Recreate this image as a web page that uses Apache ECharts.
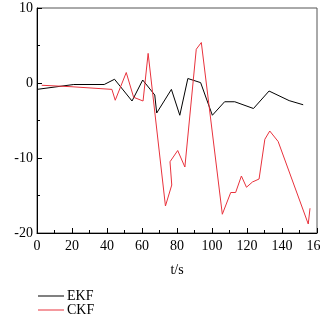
<!DOCTYPE html>
<html>
<head>
<meta charset="utf-8">
<script src="https://cdn.jsdelivr.net/npm/echarts@6/dist/echarts.min.js"></script>
<style>
html,body{margin:0;padding:0;background:#fff;}
#chart{width:320px;height:320px;}
</style>
</head>
<body>
<div id="chart"></div>
<script>
// EKF 曲线 (t, R)
var ekfT = [0, 21, 38.4, 44.3, 54.3, 60.4, 67.3, 68.4, 76.8, 81.6, 86.2, 93.5, 100.2, 107.2, 113, 123.7, 132.6, 144.1, 152.1];
var ekfR = [-0.85, -0.2, -0.2, 0.5, -2.4, 0.4, -1.6, -4.0, -0.85, -4.3, 0.6, 0.05, -4.3, -2.5, -2.5, -3.4, -1.07, -2.35, -2.9];
// CKF 曲线 (t, R)
var ckfT = [2.7, 20, 42.8, 44.7, 51, 55.2, 60.6, 63.5, 73.4, 77, 76, 80.4, 84.5, 91, 93.9, 105.9, 110.7, 113.5, 116.8, 119.7, 123.1, 126.9, 130.2, 133, 137.8, 155, 156];
var ckfR = [-0.3, -0.5, -0.85, -2.3, 1.4, -1.9, -2.4, 3.95, -16.4, -13.6, -10.5, -9.0, -11.2, 4.5, 5.4, -17.5, -14.6, -14.6, -12.4, -13.9, -13.2, -12.8, -7.5, -6.4, -7.8, -18.8, -16.7];
var seriesNames = ['EKF', 'CKF'];

function pairs(t, r) {
  var out = [];
  for (var i = 0; i < t.length; i++) out.push([t[i], r[i]]);
  return out;
}

var chart = echarts.init(document.getElementById('chart'));
var font = 'Liberation Serif';
var option = {
  animation: false,
  grid: {left: 37, right: 3, top: 8, bottom: 87, outerBoundsMode: 'none', containLabel: false,
         show: true, borderColor: '#555', borderWidth: 1},
  legend: {
    orient: 'vertical', left: 38, top: 289, padding: 0,
    itemWidth: 26, itemHeight: 1, itemGap: 0, icon: 'rect',
    textStyle: {fontFamily: font, fontSize: 14, lineHeight: 14, color: '#000', padding: [0, 0, 0, -2]},
    data: seriesNames
  },
  xAxis: {
    type: 'value', min: 0, max: 160, interval: 20,
    name: 't/s', nameLocation: 'middle', nameGap: 30,
    nameTextStyle: {fontFamily: font, fontSize: 14, color: '#000'},
    axisLine: {show: true, onZero: false, lineStyle: {color: '#000'}},
    axisTick: {inside: true, length: 5, lineStyle: {color: '#000'}},
    minorTick: {show: true, splitNumber: 2, length: 3, lineStyle: {color: '#000'}},
    axisLabel: {fontFamily: font, fontSize: 14, color: '#000', margin: 6},
    splitLine: {show: false}
  },
  yAxis: {
    type: 'value', min: -20, max: 10, interval: 10,
    name: 'R', nameLocation: 'middle', nameGap: 28,
    nameTextStyle: {fontFamily: font, fontSize: 14, color: '#000'},
    axisLine: {show: true, onZero: false, lineStyle: {color: '#000'}},
    axisTick: {inside: true, length: 5, lineStyle: {color: '#000'}},
    minorTick: {show: true, splitNumber: 2, length: 3, lineStyle: {color: '#000'}},
    axisLabel: {fontFamily: font, fontSize: 14, color: '#000', margin: 4},
    splitLine: {show: false}
  },
  series: [
    {name: seriesNames[0], type: 'line', symbol: 'none', data: pairs(ekfT, ekfR),
     lineStyle: {color: '#000', width: 1}, itemStyle: {color: '#000'}},
    {name: seriesNames[1], type: 'line', symbol: 'none', data: pairs(ckfT, ckfR),
     lineStyle: {color: '#e8323c', width: 1}, itemStyle: {color: '#e8323c'}}
  ]
};
option && chart.setOption(option);
</script>
</body>
</html>
